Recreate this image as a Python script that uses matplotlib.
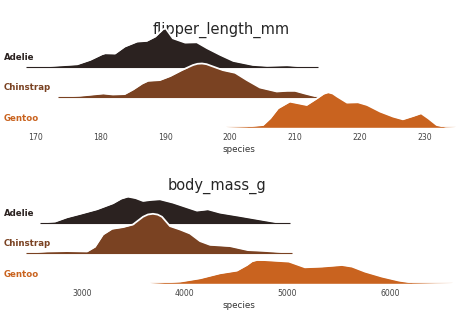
import matplotlib.pyplot as plt

species = ["Adelie", "Chinstrap", "Gentoo"]
colors = ["#2b2220", "#7a4222", "#c9631f"]

# density curves (x value, relative height)
adelie_flipper_x = [168.6, 172.3, 176.5, 178.5, 180.3, 180.8, 182.3, 183.8, 185.7, 187.2, 188.5,
                    189.7, 190.1, 191.2, 193.1, 194.9, 196.5, 198.5, 200.5, 203.5, 205.7, 208.8,
                    210.8, 213.5]
adelie_flipper_h = [0, 0.5, 2.3, 6.7, 12.3, 13.3, 13, 20, 25, 25.7, 30,
                    37.3, 38.3, 28.3, 24, 24.3, 18.3, 11.7, 5.7, 1.7, 0.7, 1.3,
                    0.3, 0]
chinstrap_flipper_x = [173.5, 176.9, 180.5, 182.0, 183.8, 185.1, 186.5, 187.4, 189.2, 190.8, 192.6,
                       194.3, 195.0, 195.7, 196.4, 197.2, 198.9, 200.8, 202.6, 204.6, 207.2, 208.8,
                       210.0, 211.5, 213.5]
chinstrap_flipper_h = [0, 1, 3.3, 2.3, 2.7, 7.3, 13.3, 16, 16.7, 20.7, 26.7,
                       31.7, 33.0, 33.3, 32.6, 30.7, 26.7, 24, 16.7, 9.3, 5.3, 6,
                       6, 3.3, 0]
gentoo_flipper_x = [199.4, 202.6, 205.1, 206.2, 207.4, 209.2, 210.5, 211.8, 213.4, 214.4, 215.1,
                    215.8, 216.5, 218.0, 219.7, 221.1, 223.1, 225.1, 226.6, 228.2, 229.4, 230.5,
                    231.8, 233.1, 234.6]
gentoo_flipper_h = [0, 0.7, 2.3, 9, 19, 25.7, 24, 22.3, 29, 33.5, 35,
                    33.8, 30.7, 24.7, 25, 22.3, 15.7, 10.7, 8, 11.3, 14, 9,
                    2.3, 0.3, 0]

adelie_mass_x = [2588, 2734, 2851, 2978, 3143, 3299, 3380, 3445, 3520, 3592, 3680, 3758, 3884,
                 4001, 4118, 4225, 4342, 4537, 4762, 4898, 5025]
adelie_mass_h = [0, 1, 5.3, 8.7, 13.3, 19.3, 24, 26, 24.5, 21.7, 22.8, 23.3, 20,
                 16, 12, 13.3, 10, 6.7, 2.7, 0.3, 0]
chinstrap_mass_x = [2451, 2656, 2851, 3046, 3124, 3202, 3290, 3397, 3494, 3592, 3640, 3689,
                    3735, 3777, 3855, 3953, 4050, 4148, 4245, 4440, 4616, 4762, 4898, 5044]
chinstrap_mass_h = [0, 1.3, 1.7, 1.3, 6, 18.3, 24, 25.7, 28.3, 36, 38.3, 39,
                    38.2, 36, 26.7, 23.3, 19.3, 11.7, 8, 6.7, 2.7, 2, 1, 0]
gentoo_mass_x = [3661, 3953, 4148, 4342, 4508, 4606, 4655, 4703, 4780, 4859, 5015, 5171, 5337,
                 5532, 5630, 5756, 5922, 6088, 6215, 6440, 6606]
gentoo_mass_h = [0, 1.7, 5, 10, 12.7, 18.3, 22, 23.3, 23.2, 22.7, 21.7, 16, 16.7,
                 18.3, 16.7, 11.7, 6.7, 2.7, 0.7, 0.2, 0]

flipper_ticks = [170, 180, 190, 200, 210, 220, 230]
mass_ticks = [3000, 4000, 5000, 6000]

W, H = 474, 314
row_offsets = [60.7, 30.5, 0]


def ridge(fig, bottom_px, top_px, xlim, curves, ticks, title, title_xy):
    ax = fig.add_axes([4 / W, 1 - bottom_px / H, 1 - 4 / W, (bottom_px - top_px) / H])
    ax.set_xlim(*xlim)
    ax.set_ylim(0, bottom_px - top_px)
    for i, ((xs, hs), name, c) in enumerate(zip(curves, species, colors)):
        off = row_offsets[i]
        ys = [off + h for h in hs]
        ax.fill_between(xs, off, ys, color=c, lw=0, zorder=2 + i)
        ax.plot(xs, ys, color="w", lw=1.3, zorder=2 + i, solid_joinstyle="round")
        ax.plot([xs[0], xs[-1]], [off, off], color=c, lw=0.8, zorder=2 + i,
                solid_capstyle="butt")
        ax.text(0, off + 9, name, transform=ax.get_yaxis_transform(), ha="left",
                va="center", fontsize=6.2, fontweight="bold", color=c, zorder=10)
    ax.text(title_xy[0] / W, 1 - title_xy[1] / H, title, transform=fig.transFigure,
            ha="center", va="center", fontsize=10.5, color="#262626", zorder=0)
    ax.set_xticks(ticks)
    ax.set_yticks([])
    ax.tick_params(axis="x", length=0, pad=4, labelsize=5.6, labelcolor="#444444")
    ax.set_xlabel("species", fontsize=6.3, color="#333333", labelpad=2)
    for s in ax.spines.values():
        s.set_visible(False)
    ax.patch.set_visible(False)
    return ax


fig = plt.figure(figsize=(W / 100, H / 100), dpi=100)

ridge(fig, 127.3, 20, (165.23, 237.54),
      [(adelie_flipper_x, adelie_flipper_h), (chinstrap_flipper_x, chinstrap_flipper_h),
       (gentoo_flipper_x, gentoo_flipper_h)],
      flipper_ticks, "flipper_length_mm", (221, 30))

ridge(fig, 283.3, 175, (2236.6, 6819.1),
      [(adelie_mass_x, adelie_mass_h), (chinstrap_mass_x, chinstrap_mass_h),
       (gentoo_mass_x, gentoo_mass_h)],
      mass_ticks, "body_mass_g", (217, 186))

fig.savefig("out.png", dpi=100)
